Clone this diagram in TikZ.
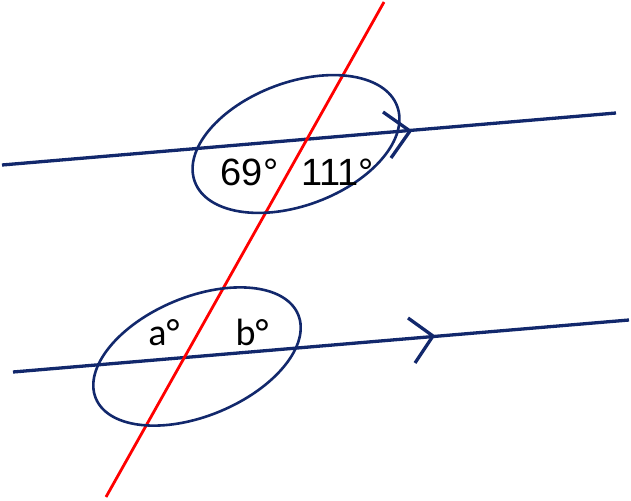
\documentclass[tikz,border=0pt]{standalone}
\usepackage{fontspec}
\newfontfamily\arialf{Liberation Sans}
\newfontfamily\calib{Carlito}
\definecolor{navy}{RGB}{18,40,108}
\definecolor{redline}{RGB}{255,0,0}
\begin{document}
\begin{tikzpicture}[x=1pt,y=-1pt,
  parline/.style={navy,line width=3.3pt},
  ring/.style={navy,line width=2.6pt},
  chevron/.style={navy,line width=3.3pt},
  transversal/.style={redline,line width=2.8pt},
  anglab/.style={font=\arialf\fontsize{38}{40}\selectfont,inner sep=0pt,anchor=base},
  letlab/.style={font=\calib\fontsize{38}{40}\selectfont,inner sep=0pt,anchor=base}]
\useasboundingbox (0,0) rectangle (631,500);
% parallel lines
\coordinate (t1) at (2,165);
\coordinate (t2) at (616,113);
\coordinate (b1) at (13,372);
\coordinate (b2) at (629,320);
\draw[parline] (t1) -- (t2);
\draw[parline] (b1) -- (b2);
% transversal
\coordinate (r1) at (106,497);
\coordinate (r2) at (384,2);
\draw[transversal] (r1) -- (r2);
% ellipses
\coordinate (e1) at (296,144);
\coordinate (e2) at (197,356.5);
\draw[ring] (e1) ellipse[x radius=108, y radius=61.5, rotate=20.5];
\draw[ring] (e2) ellipse[x radius=109.5, y radius=59.5, rotate=22.5];
% chevrons
\coordinate (c1) at (410,131);
\coordinate (c2) at (433,336);
\draw[chevron] (383,112) -- (c1) -- (391,158);
\draw[chevron] (408,318) -- (c2) -- (415,363);
% labels
\node[anglab] (l69) at (249.5,185) {69°};
\node[anglab] (l111) at (337.5,185) {111°};
\node[letlab] (la) at (164,345) {a°};
\node[letlab] (lb) at (252,345) {b°};
\end{tikzpicture}
\end{document}
